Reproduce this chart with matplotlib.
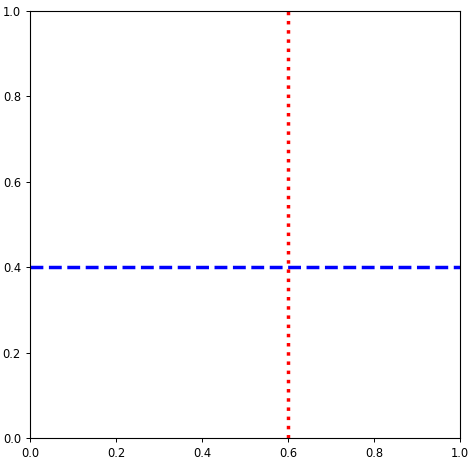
import matplotlib
matplotlib.use('Agg')
import matplotlib.pyplot as plt

hline_y = 0.4
vline_x = 0.6

fig = plt.figure(figsize=(4.74, 4.62), dpi=100)
ax = fig.add_axes([30 / 474, 24 / 462, 430 / 474, 427 / 462])

ax.axhline(y=hline_y, color='b', linestyle='--', linewidth=2.5)
ax.axvline(x=vline_x, color='r', linestyle=':', linewidth=2.5)
ax.set_xlim(0, 1)
ax.set_ylim(0, 1)
ax.tick_params(labelsize=8.3, length=3, width=0.7)
for s in ax.spines.values():
    s.set_linewidth(0.8)

fig.savefig('out.png', dpi=100)
